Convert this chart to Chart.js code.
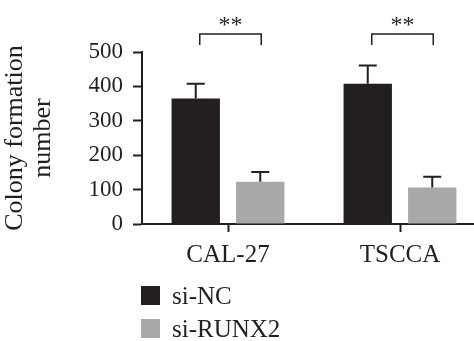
<!DOCTYPE html>
<html>
<head>
<meta charset="utf-8">
<script src="https://cdn.jsdelivr.net/npm/chart.js@4"></script>
<style>
  html, body { margin: 0; padding: 0; background: #fff; overflow: hidden; }
  #wrap { position: relative; width: 486px; height: 341px; }
  #legend { position: absolute; left: 141px; top: 279px; font-family: "Liberation Serif", serif; font-size: 25px; color: #231f20; }
  .legend-item { display: flex; align-items: center; height: 33px; }
  .legend-box { width: 19px; height: 19px; margin-right: 12px; }
</style>
</head>
<body>
<div id="wrap">
  <canvas id="colonyChart" width="486" height="341"></canvas>
  <div id="legend"></div>
</div>
<script>
// Colony formation counts per cell line
var cellLines = ['CAL-27', 'TSCCA'];
var seriesNames = ['si-NC', 'si-RUNX2'];
var siNC = [365, 408];
var siNCErr = [43, 53];
var siRUNX2 = [123, 106];
var siRUNX2Err = [28, 31];
var yTicks = [0, 100, 200, 300, 400, 500];
var sigMarks = ['**', '**'];

var BLACK = '#231f20';
var GREY = '#a7a8aa';
var SERIF = '"Liberation Serif", "Times New Roman", serif';

// error bars (upper half only; the bar hides the rest)
var errorBars = {
  id: 'errorBars',
  afterDatasetsDraw: function(chart) {
    var ctx = chart.ctx;
    var y = chart.scales.y;
    ctx.save();
    ctx.strokeStyle = BLACK;
    ctx.lineWidth = 2;
    chart.data.datasets.forEach(function(ds, di) {
      var meta = chart.getDatasetMeta(di);
      meta.data.forEach(function(bar, i) {
        var top = y.getPixelForValue(ds.data[i] + ds.errors[i]);
        ctx.beginPath();
        ctx.moveTo(bar.x, bar.y);
        ctx.lineTo(bar.x, top);
        ctx.moveTo(bar.x - 9, top);
        ctx.lineTo(bar.x + 9, top);
        ctx.stroke();
      });
    });
    ctx.restore();
  }
};

// significance brackets above each group
var sigBrackets = {
  id: 'sigBrackets',
  afterDraw: function(chart) {
    var ctx = chart.ctx;
    var a = chart.getDatasetMeta(0).data;
    var b = chart.getDatasetMeta(1).data;
    var top = chart.chartArea.top - 18;
    ctx.save();
    ctx.strokeStyle = BLACK;
    ctx.lineWidth = 1.5;
    ctx.fillStyle = BLACK;
    ctx.font = '24px ' + SERIF;
    ctx.textAlign = 'center';
    ctx.textBaseline = 'alphabetic';
    for (var i = 0; i < a.length; i++) {
      var x1 = a[i].x + 4, x2 = b[i].x + 1;
      ctx.beginPath();
      ctx.moveTo(x1, top + 11);
      ctx.lineTo(x1, top);
      ctx.lineTo(x2, top);
      ctx.lineTo(x2, top + 11);
      ctx.stroke();
      ctx.fillText(sigMarks[i], (x1 + x2) / 2, top - 2);
    }
    ctx.restore();
  }
};

var chart = new Chart(document.getElementById('colonyChart'), {
  type: 'bar',
  data: {
    labels: cellLines,
    datasets: [
      { label: seriesNames[0], data: siNC, errors: siNCErr, backgroundColor: BLACK },
      { label: seriesNames[1], data: siRUNX2, errors: siRUNX2Err, backgroundColor: GREY }
    ]
  },
  options: {
    responsive: false,
    animation: false,
    devicePixelRatio: 1,
    categoryPercentage: 0.75,
    barPercentage: 0.75,
    layout: { padding: { top: 52, bottom: 67, left: 0, right: 0 } },
    plugins: { legend: { display: false }, tooltip: { enabled: false } },
    scales: {
      x: {
        border: { color: BLACK, width: 2 },
        grid: { offset: false, drawOnChartArea: false, tickLength: 8, color: BLACK, tickWidth: 2 },
        ticks: { color: BLACK, font: { family: SERIF, size: 25 }, padding: 8 },
        afterFit: function(s) { s.height = 50; }
      },
      y: {
        min: 0,
        max: 500,
        afterBuildTicks: function(s) { s.ticks = yTicks.map(function(v) { return { value: v }; }); },
        border: { color: BLACK, width: 2 },
        grid: { drawOnChartArea: false, tickLength: 9, color: BLACK, tickWidth: 2 },
        ticks: { color: BLACK, font: { family: SERIF, size: 23 }, padding: 10 },
        title: {
          display: true,
          text: ['Colony formation', 'number'],
          color: BLACK,
          font: { family: SERIF, size: 26, lineHeight: 1.05 },
          padding: { top: 2, bottom: 0 }
        },
        afterFit: function(s) { s.width = 142; }
      }
    }
  },
  plugins: [errorBars, sigBrackets]
});

// legend stacked under the axis
var legendEl = document.getElementById('legend');
chart.data.datasets.forEach(function(ds) {
  var item = document.createElement('div');
  item.className = 'legend-item';
  item.innerHTML = '<div class="legend-box" style="background:' + ds.backgroundColor + '"></div>' + ds.label;
  legendEl.appendChild(item);
});
</script>
</body>
</html>
